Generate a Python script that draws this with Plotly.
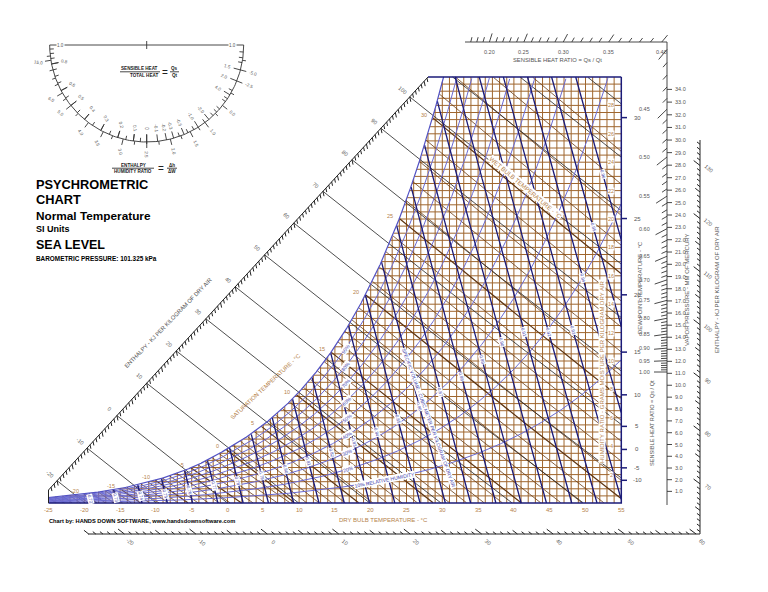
import numpy as np
import plotly.graph_objects as go

# ---- values ----
dry_bulb_ticks = [-25, -20, -15, -10, -5, 0, 5, 10, 15, 20, 25, 30, 35, 40, 45, 50, 55]
dew_point_ticks = [30, 25, 20, 15, 10, 5, 0, -5, -10]
humidity_ratio_ticks = [2, 4, 6, 8, 10, 12, 14, 16, 18, 20, 22, 24, 26, 28]
rh_levels = [10, 20, 30, 40, 50, 60, 70, 80, 90]
saturation_labels = [-20, -15, -10, -5, 0, 5, 10, 15, 20, 25, 30]
volume_levels = [0.72, 0.73, 0.74, 0.75, 0.76, 0.77, 0.78, 0.79, 0.80, 0.81, 0.82, 0.83, 0.84,
                 0.85, 0.86, 0.87, 0.88, 0.89, 0.90, 0.91, 0.92, 0.93, 0.94, 0.95, 0.96]
enthalpy_levels = [-20, -10, 0, 10, 20, 30, 40, 50, 60, 70, 80, 90, 100, 110, 120, 130]
enthalpy_left_labels = [-20, -10, 0, 10, 20, 30, 40, 50, 60, 70, 80, 90, 100]
enthalpy_bottom_labels = [-20, -10, 0, 10, 20, 30, 40, 50, 60]
enthalpy_right_labels = [70, 80, 90, 100, 110, 120, 130]
shr_top_labels = [0.20, 0.25, 0.30, 0.35, 0.40]
shr_side_labels = [0.45, 0.50, 0.55, 0.60, 0.65, 0.70, 0.75, 0.80, 0.85, 0.90, 0.95, 1.00]
vapor_pressure_labels = [1.0, 2.0, 3.0, 4.0, 5.0, 6.0, 7.0, 8.0, 9.0, 10.0, 11.0, 12.0,
                         13.0, 14.0, 15.0, 16.0, 17.0, 18.0, 19.0, 20.0, 21.0, 22.0, 23.0,
                         24.0, 25.0, 26.0, 27.0, 28.0, 29.0, 30.0, 31.0, 32.0, 33.0, 34.0]
protractor_shr = [0.8, 0.6, 0.5, 0.4, 0.3, 0.2, 0.1, 0.0, -0.1, -0.2, -0.3, -0.5,
                  -1.0, -2.0, 4.0, 2.0, 1.5]
protractor_dh_dw = [15.0, 6.0, 5.0, 4.0, 3.5, 3.0, 2.5, 2.0, 1.5, 1.0, 0.0, -2.5, -5.0]

# ---- psychrometrics at sea level ----
P_ATM = 101.325


def p_sat(t):
    t = np.asarray(t, float)
    water = 0.61094 * np.exp(17.625 * t / (t + 243.04))
    ice = 0.61115 * np.exp(22.452 * t / (272.55 + t))
    return np.where(t >= 0, water, ice)


def w_rh(t, phi):
    pv = phi * p_sat(t)
    return 621.945 * pv / (P_ATM - pv)


def w_wetbulb(t, twb):
    ws = float(w_rh(twb, 1.0)) / 1000
    if twb >= 0:
        w = ((2501 - 2.326 * twb) * ws - 1.006 * (t - twb)) / (2501 + 1.86 * t - 4.186 * twb)
    else:
        w = ((2830 - 0.24 * twb) * ws - 1.006 * (t - twb)) / (2830 + 1.86 * t - 2.1 * twb)
    return w * 1000


def w_enthalpy(t, h):
    return (h - 1.006 * t) / (2501 + 1.86 * t) * 1000


def t_volume(w, v):
    return v * P_ATM / (0.287042 * (1 + 1.607858 * w / 1000)) - 273.15


# ---- page geometry ----
C_PX, G_PX = 7.16, 14.2          # pixels per degC, per g/kg
X0, Y0 = 48.5, 503.0             # pixel of -25 degC / 0 g/kg
T_MIN, T_MAX, W_TOP = -25, 55, 30
SKEW = 0.05                      # the printed saturation curve leans a little left
K_SHR = 1.006 / 2.501 * G_PX / C_PX
FONT = "Liberation Sans, Arial, sans-serif"
GREY, TAN, BLUE, NAVY = "#555555", "#b5824a", "#3a3aa8", "#1b1b78"


def X(px):
    return -25 + (px - X0) / C_PX


def Y(py):
    return (Y0 - py) / G_PX


def PX(x):
    return X0 + (np.asarray(x) + 25) * C_PX


def PY(y):
    return Y0 - np.asarray(y) * G_PX


def plot_x(t, w):
    return t - SKEW * w


def new_pen():
    return {"x": [], "y": []}


def draw(pen, xs, ys):
    pen["x"].extend([round(float(v), 4) for v in xs] + [None])
    pen["y"].extend([round(float(v), 4) for v in ys] + [None])


def draw_runs(pen, xs, ys, mask):
    start = None
    for i, m in enumerate(list(mask) + [False]):
        if m and start is None:
            start = i
        if not m and start is not None:
            if i - start > 1:
                draw(pen, xs[start:i], ys[start:i])
            start = None


def draw_px(pen, pts):
    draw(pen, [X(p[0]) for p in pts], [Y(p[1]) for p in pts])


notes = []


def note(x, y, text, size=6, color=GREY, angle=0, xanchor="center", yanchor="middle", bg=None):
    a = dict(x=float(x), y=float(y), xref="x", yref="y", text=text, showarrow=False,
             textangle=angle, xanchor=xanchor, yanchor=yanchor,
             font=dict(family=FONT, size=size, color=color))
    if bg:
        a.update(bgcolor=bg, borderpad=0)
    notes.append(a)


def note_px(px, py, text, **kw):
    note(X(px), Y(py), text, **kw)


# ---- saturation curve ----
t_sat = np.linspace(T_MIN, 33, 2000)
w_sat = w_rh(t_sat, 1.0)
x_sat = plot_x(t_sat, w_sat)
t_top = float(np.interp(W_TOP, w_sat, t_sat))
x_top = float(plot_x(t_top, W_TOP))
under = w_sat <= W_TOP

# ---- brown dry-bulb / humidity-ratio grid ----
grid = new_pen()
for xg in range(-24, 55):
    draw(grid, [xg, xg], [0, min(float(np.interp(xg, x_sat, w_sat)), W_TOP)])
for k in range(1, 60):
    wg = k * 0.5
    draw(grid, [float(np.interp(wg, w_sat, x_sat)), T_MAX], [wg, wg])

# ---- wet bulb lines ----
wb_thin, wb_thick = new_pen(), new_pen()
for twb in range(-25, 35):
    t = np.linspace(twb, twb + 60, 700)
    w = w_wetbulb(t, twb)
    x = plot_x(t, w)
    mask = (w >= 0) & (w <= W_TOP + 1e-9) & (x <= T_MAX)
    draw_runs(wb_thick if twb % 5 == 0 else wb_thin, x, w, mask)

# ---- enthalpy lines and oblique enthalpy scale ----
A_PX = np.array([48.5, 490.0])
B_PX = np.array([428.0, float(PY(W_TOP))])
D_PX = B_PX - A_PX
OUT = np.array([D_PX[1], -D_PX[0]])
OUT = OUT / np.hypot(*OUT)
if OUT[1] > 0:
    OUT = -OUT
DOWN = np.array([0.22, 1.0]) / np.hypot(0.22, 1.0)


def oblique_hit(h):
    t = np.linspace(-45, 40, 3000)
    w = w_enthalpy(t, h)
    px, py = PX(plot_x(t, w)), PY(w)
    cr = D_PX[0] * (py - A_PX[1]) - D_PX[1] * (px - A_PX[0])
    sg = np.sign(cr)
    idx = np.nonzero(sg[:-1] != sg[1:])[0]
    if len(idx) == 0:
        return None
    i = idx[0]
    f = cr[i] / (cr[i] - cr[i + 1])
    ti = t[i] + f * (t[i + 1] - t[i])
    wi = float(w_enthalpy(ti, h))
    xi = float(plot_x(ti, wi))
    u = ((PX(xi) - A_PX[0]) * D_PX[0] + (PY(wi) - A_PX[1]) * D_PX[1]) / (D_PX @ D_PX)
    if u < 0 or u > 1:
        return None
    return ti, xi, wi


def h_dir_px(t, h, step):
    w1, w2 = w_enthalpy(t, h), w_enthalpy(t + step, h)
    dx = PX(plot_x(t + step, w2)) - PX(plot_x(t, w1))
    dy = PY(w2) - PY(w1)
    n = np.hypot(dx, dy)
    return dx / n, dy / n


def tick_len(h):
    return 8.0 if h % 10 == 0 else (6.0 if h % 5 == 0 else 3.8)


enth = new_pen()
scales = new_pen()
for h in enthalpy_levels:
    hit = oblique_hit(h)
    t = np.linspace(hit[0] if hit else -30, 110, 1200)
    w = w_enthalpy(t, h)
    x = plot_x(t, w)
    mask = (w >= 0) & (w <= W_TOP + 1e-9) & (x <= T_MAX)
    draw_runs(enth, x, w, mask)

for h in range(-25, 111):
    hit = oblique_hit(h)
    if not hit:
        continue
    ti, xi, wi = hit
    p0 = (float(PX(xi)), float(PY(wi)))
    L = 5.0 if h % 5 == 0 else 4.0
    draw_px(scales, [p0, (p0[0] + L * DOWN[0], p0[1] + L * DOWN[1])])
    if h in enthalpy_left_labels:
        note_px(p0[0] + 10 * OUT[0], p0[1] + 10 * OUT[1], str(h), size=5.5, angle=40)

# bottom enthalpy scale
W_B = Y(534.0)
for h in range(-30, 61):
    t = (h - 2.501 * W_B) / (1.006 + 0.00186 * W_B)
    x = plot_x(t, W_B)
    if not X(88.0) <= x <= X(700.0):
        continue
    dx, dy = h_dir_px(t, h, -0.5)
    p0 = (float(PX(x)), 534.0)
    L = tick_len(h)
    draw_px(scales, [p0, (p0[0] + L * dx, p0[1] + L * dy)])
    if h in enthalpy_bottom_labels:
        note_px(p0[0] + 6, p0[1] + 8, str(h), size=5.5, angle=40)

# right enthalpy scale
X_R = X(700.0)
for h in range(55, 140):
    t = X_R
    for _ in range(8):
        t = X_R + SKEW * w_enthalpy(t, h)
    w = float(w_enthalpy(t, h))
    if not Y(534.0) <= w <= Y(140.0):
        continue
    dx, dy = h_dir_px(t, h, -0.5)
    p0 = (700.0, float(PY(w)))
    L = tick_len(h)
    draw_px(scales, [p0, (p0[0] + L * dx, p0[1] + L * dy)])
    if h in enthalpy_right_labels:
        note_px(p0[0] + 8, p0[1] + 3, str(h), size=5.5, angle=40)

draw_px(scales, [(88.0, 534.0), (700.0, 534.0), (700.0, 140.0)])
draw_px(scales, [(48.5, Y0), tuple(A_PX), tuple(B_PX)])

# ---- specific volume lines ----
vol = new_pen()
wv = np.linspace(0, W_TOP, 900)
for v in volume_levels:
    t = t_volume(wv, v)
    x = plot_x(t, wv)
    mask = (x >= T_MIN) & (x <= T_MAX) & (wv <= w_rh(t, 1.0) + 1e-6)
    draw_runs(vol, x, wv, mask)
    idx = np.nonzero(mask)[0]
    if len(idx) > 3:
        j = idx[int(len(idx) * 0.4)]
        note(x[j], wv[j], f"{v:.2f}", size=4.5, color=BLUE, angle=75, bg="white")

# ---- relative humidity curves ----
rh = new_pen()
tr = np.linspace(T_MIN, 60, 900)
for phi in rh_levels:
    w = w_rh(tr, phi / 100)
    x = plot_x(tr, w)
    mask = (w <= W_TOP) & (x >= T_MIN) & (x <= T_MAX)
    draw_runs(rh, x, w, mask)
    tl = 22.0 if phi == 10 else 17.0
    wl = float(w_rh(tl, phi / 100))
    dw = float(w_rh(tl + 0.5, phi / 100) - w_rh(tl - 0.5, phi / 100))
    ang = -np.degrees(np.arctan(dw * G_PX / ((1 - SKEW * dw) * C_PX)))
    text = "10% RELATIVE HUMIDITY" if phi == 10 else f"{phi}%"
    note(plot_x(tl, wl), wl, text, size=5, color=BLUE, angle=ang, bg="white")

# ---- chart border ----
border = new_pen()
draw(border, [T_MIN, T_MAX, T_MAX], [0, 0, W_TOP])
draw(border, [X(B_PX[0]), T_MAX], [W_TOP, W_TOP])
sat = new_pen()
draw(sat, list(x_sat[under]) + [x_top], list(w_sat[under]) + [W_TOP])

# dew point ticks on the right edge
for td in dew_point_ticks:
    w = float(w_rh(td, 1.0))
    draw(border, [T_MAX, X(627)], [w, w])
    note(X(637), w, str(td), size=6)

for wr in humidity_ratio_ticks:
    note(X(611), wr, str(wr), size=5.5, color=TAN, bg="white")
for tb in dry_bulb_ticks:
    note(tb, Y(509.5), str(tb), size=6, color=TAN)
for ts in saturation_labels:
    w = float(w_rh(ts, 1.0))
    note_px(float(PX(plot_x(ts, w))) - 9, float(PY(w)) - 3, str(ts), size=5.5, color=TAN)

# ---- sensible heat ratio scales and vapour pressure scale ----
REF_SIDE = (397.5, 372.0)
REF_TOP = (386.0, 372.0)
shr = new_pen()
draw_px(shr, [(465.0, 42.0), (667.0, 42.0), (667.0, 505.0)])
for k in range(40, 101):
    s = k / 100
    y = REF_SIDE[1] - K_SHR * (1 - s) / s * (667 - REF_SIDE[0])
    if y < 44:
        continue
    dx, dy = REF_SIDE[0] - 667, REF_SIDE[1] - y
    n = np.hypot(dx, dy)
    L = 13.0 if k % 5 == 0 else 6.0
    draw_px(shr, [(667.0, y), (667 + L * dx / n, y + L * dy / n)])
    if round(s, 2) in shr_side_labels:
        note_px(652, y, f"{s:.2f}", size=5.5, xanchor="right")
for k in range(14, 41):
    s = k / 100
    x = REF_TOP[0] + (REF_TOP[1] - 42) / (K_SHR * (1 - s) / s)
    if not 465 <= x <= 667:
        continue
    dx, dy = x - REF_TOP[0], 42 - REF_TOP[1]
    n = np.hypot(dx, dy)
    L = 9.0 if k % 5 == 0 else 5.0
    draw_px(shr, [(x, 42.0), (x + L * dx / n, 42 + L * dy / n)])
    if round(s, 2) in shr_top_labels:
        note_px(x, 52, f"{s:.2f}", size=5.5)

for p in vapor_pressure_labels:
    y = float(PY(621.945 * p / (760 - p)))
    draw_px(shr, [(667.0, y), (672.0, y)])
    note_px(673, y, f"{p:.1f}", size=5.5, xanchor="left")

# ---- protractor ----
PC_X, PC_Y, PR = 146.7, 45.0, 97.0
prot = new_pen()
a = np.linspace(0, np.pi, 150)
draw_px(prot, list(zip(PC_X + PR * np.cos(a), PC_Y + PR * np.sin(a))))
draw_px(prot, [(PC_X - PR, PC_Y), (PC_X + PR, PC_Y)])
draw_px(prot, [(PC_X, PC_Y - 4), (PC_X, PC_Y + 4)])
draw_px(prot, [(PC_X, PC_Y + PR - 8), (PC_X, PC_Y + PR + 2)])


def prot_dir(s):
    if s == 0:
        return 0.0, 1.0, -90.0
    m = K_SHR if np.isinf(s) else abs(K_SHR * (1 - s) / s)
    th = np.arctan(m)
    side = -1 if 0 < s <= 1 else 1
    return side * np.cos(th), np.sin(th), side * np.degrees(th)


def q_to_s(q):
    return np.inf if q == 0 else 1 - 2.501 / q


minor_shr = [k / 20 for k in range(1, 20)] + [1.1, 1.2, 1.3, 3.0, 6.0, 10.0, -10.0, -5.0,
                                              -3.0, -1.5, -0.8, -0.6, -0.4]
for s in minor_shr + protractor_shr:
    cx, cy, _ = prot_dir(s)
    r0 = PR - (7 if s in protractor_shr else 4)
    draw_px(prot, [(PC_X + r0 * cx, PC_Y + r0 * cy), (PC_X + PR * cx, PC_Y + PR * cy)])
for s in protractor_shr:
    cx, cy, ang = prot_dir(s)
    txt = "0" if s == 0 else f"{s:.1f}"
    note_px(PC_X + 84 * cx, PC_Y + 84 * cy, txt, size=4.5, angle=-ang if cx <= 0 else ang)
minor_q = [20.0, 10.0, 8.0, 7.0, 5.5, 4.5, 3.25, 2.75, 2.25, 1.75, 1.25, 0.5, -1.0, -10.0]
for q in minor_q + protractor_dh_dw:
    cx, cy, _ = prot_dir(q_to_s(q))
    r1 = PR + (6 if q in protractor_dh_dw else 3.5)
    draw_px(prot, [(PC_X + PR * cx, PC_Y + PR * cy), (PC_X + r1 * cx, PC_Y + r1 * cy)])
for q in protractor_dh_dw:
    cx, cy, ang = prot_dir(q_to_s(q))
    note_px(PC_X + 110 * cx, PC_Y + 110 * cy, f"{q:.1f}", size=4.5,
            angle=-ang if cx <= 0 else ang)
note_px(PC_X - PR + 11, PC_Y, "1.0", size=4.5, bg="white")
note_px(PC_X + PR - 11, PC_Y, "1.0", size=4.5, bg="white")

draw_px(prot, [(120.0, 71.8), (160.0, 71.8)])
draw_px(prot, [(170.0, 71.8), (179.0, 71.8)])
draw_px(prot, [(112.0, 168.2), (154.0, 168.2)])
draw_px(prot, [(167.0, 168.2), (177.0, 168.2)])
note_px(160, 68.6, "<b>SENSIBLE HEAT</b>", size=4.6, color="#222", xanchor="right")
note_px(160, 75.2, "<b>TOTAL HEAT</b>", size=4.6, color="#222", xanchor="right")
note_px(165, 72, "=", size=10, color="#222")
note_px(174.5, 68.6, "<b>Qs</b>", size=4.6, color="#222")
note_px(174.5, 75.2, "<b>Qt</b>", size=4.6, color="#222")
note_px(133, 165, "<b>ENTHALPY</b>", size=4.6, color="#222")
note_px(133, 171.6, "<b>HUMIDITY RATIO</b>", size=4.6, color="#222")
note_px(161, 168.5, "=", size=10, color="#222")
note_px(172, 165, "<b>Δh</b>", size=4.6, color="#222")
note_px(172, 171.6, "<b>ΔW</b>", size=4.6, color="#222")

# ---- titles and axis captions ----
note_px(34, 184.3, "<b>PSYCHROMETRIC</b>", size=12.8, color="black", xanchor="left")
note_px(34, 199.2, "<b>CHART</b>", size=12.8, color="black", xanchor="left")
note_px(34, 215.5, "<b>Normal Temperature</b>", size=11.8, color="black", xanchor="left")
note_px(34, 229, "<b>SI Units</b>", size=9, color="black", xanchor="left")
note_px(34, 245, "<b>SEA LEVEL</b>", size=12.5, color="black", xanchor="left")
note_px(34, 258.5, "<b>BAROMETRIC PRESSURE: 101.325 kPa</b>", size=6.4, color="black",
        xanchor="left")
note_px(47, 521, "<b>Chart by: HANDS DOWN SOFTWARE, www.handsdownsoftware.com</b>",
        size=5.7, color="black", xanchor="left")
note_px(383, 520, "DRY BULB TEMPERATURE - °C", size=6, color=TAN)
note_px(557, 60, "SENSIBLE HEAT RATIO = Qs / Qt", size=5.8)
note_px(640, 288, "DEW POINT TEMPERATURE - °C", size=6, angle=-90)
note_px(652, 423, "SENSIBLE HEAT RATIO = Qs / Qt", size=5.6, angle=-90)
note_px(687, 290, "VAPOR PRESSURE - MM OF MERCURY", size=6, angle=-90)
note_px(717, 290, "ENTHALPY - KJ PER KILOGRAM OF DRY AIR", size=6, angle=-90)
note_px(602, 372, "HUMIDITY RATIO - GRAMS MOISTURE PER KILOGRAM DRY AIR", size=6,
        color=TAN, angle=-90, bg="white")
note_px(168, 323, "ENTHALPY - KJ PER KILOGRAM OF DRY AIR", size=5.8, angle=-46)
note_px(265, 387, "SATURATION TEMPERATURE - °C", size=5.8, color=TAN, angle=-43)
note_px(526, 187, "WET BULB TEMPERATURE - °C", size=6.2, color=TAN, angle=40, bg="white")
note_px(429, 418, "SPECIFIC VOLUME - CUBIC METER PER KILOGRAM OF DRY AIR", size=4.8,
        color=BLUE, angle=70, bg="white")

# ---- assemble ----
fig = go.Figure()
layers = [
    (grid, "#9f662e", 1.0),
    (wb_thin, "#6a3b12", 0.8),
    (wb_thick, "#5e3410", 1.2),
    (enth, "#222222", 0.8),
    (rh, "#6a6ad2", 1.0),
    (vol, NAVY, 1.3),
    (sat, "#5252c4", 1.2),
    (border, NAVY, 1.5),
    (scales, "#222222", 1.0),
    (shr, "#333333", 0.9),
    (prot, "#333333", 0.9),
]
for pen, color, width in layers:
    fig.add_trace(go.Scatter(x=pen["x"], y=pen["y"], mode="lines", hoverinfo="skip",
                             line=dict(color=color, width=width)))

fig.update_layout(
    width=768, height=592, margin=dict(l=0, r=0, t=0, b=0),
    paper_bgcolor="white", plot_bgcolor="white", showlegend=False,
    xaxis=dict(range=[X(0), X(768)], visible=False, fixedrange=True),
    yaxis=dict(range=[Y(592), Y(0)], visible=False, fixedrange=True),
    annotations=notes,
)
fig.write_html("out.html", config={"displayModeBar": False},
               post_script="document.body.style.margin='0px';")
